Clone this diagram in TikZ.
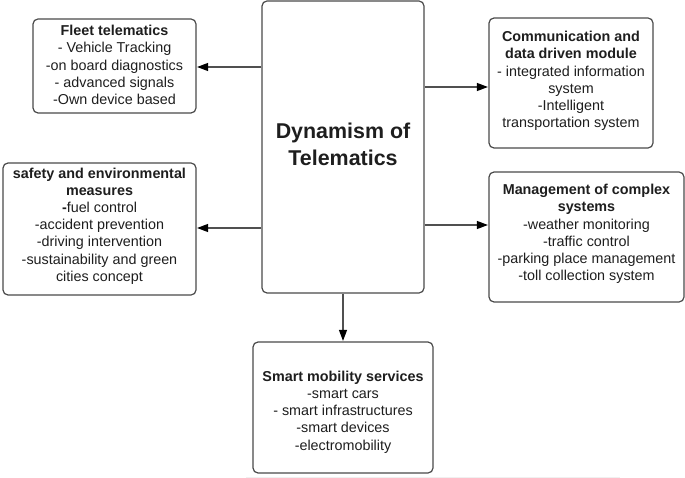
\documentclass[tikz,border=0pt]{standalone}
\usepackage{fontspec}
\setmainfont{Liberation Sans}
\usetikzlibrary{arrows.meta}
\definecolor{boxc}{HTML}{4A4A4A}
\definecolor{txtc}{HTML}{1E1E1E}
\definecolor{linec}{HTML}{505050}
\begin{document}
\begin{tikzpicture}[x=1bp,y=-1bp,
  box/.style={draw=boxc, line width=1.2bp, rounded corners=5bp, fill=white, inner sep=0pt},
  txt/.style={align=center, text=txtc, inner sep=0pt, font=\fontsize{14.4}{17.3}\selectfont},
  title/.style={align=center, text=txtc, inner sep=0pt, font=\fontsize{21.5}{26.8}\selectfont\bfseries},
  arr/.style={draw=linec, line width=1.1bp, -{Triangle[length=11bp,width=8bp,color=black]}, shorten >=0.5bp}]
\useasboundingbox (0,0) rectangle (685,478);
\fill[white] (0,0) rectangle (685,478);
% faint baseline
\draw[gray!12, line width=0.8bp] (246,477) -- (620,477);

% boxes
\node[box, minimum width=162bp, minimum height=292bp] (center) at (343,147) {};
\node[box, minimum width=163bp, minimum height=94bp] (fleet) at (114.5,66) {};
\node[box, minimum width=164bp, minimum height=130bp] (comm) at (571,83) {};
\node[box, minimum width=193bp, minimum height=132bp] (safety) at (99.5,229) {};
\node[box, minimum width=195bp, minimum height=130bp] (mgmt) at (586.5,237) {};
\node[box, minimum width=180bp, minimum height=131bp] (smart) at (343,407.5) {};

% texts
\node[title] (center-t) at (343,144) {Dynamism of\\Telematics};
\node[txt] (fleet-t) at (114.5,65) {\textbf{Fleet telematics}\\- Vehicle Tracking\\-on board diagnostics\\- advanced signals\\-Own device based};
\node[txt] (comm-t) at (571,81) {\textbf{Communication and}\\\textbf{data driven module}\\- integrated information\\system\\-Intelligent\\transportation system};
\node[txt] (safety-t) at (99.5,226) {\textbf{safety and environmental}\\\textbf{measures}\\\textbf{-}fuel control\\-accident prevention\\-driving intervention\\-sustainability and green\\cities concept};
\node[txt] (mgmt-t) at (586.5,234) {\textbf{Management of complex}\\\textbf{systems}\\-weather monitoring\\-traffic control\\-parking place management\\-toll collection system};
\node[txt] (smart-t) at (343,412) {\textbf{Smart mobility services}\\-smart cars\\- smart infrastructures\\-smart devices\\-electromobility};

% connectors
\draw[arr] ([yshift=-1bp]center.west |- fleet.east) -- ([yshift=-1bp]fleet.east);
\draw[arr] ([yshift=-4bp]center.east |- comm.west) -- ([yshift=-4bp]comm.west);
\draw[arr] ([yshift=1bp]center.west |- safety.east) -- ([yshift=1bp]safety.east);
\draw[arr] ([yshift=12bp]center.east |- mgmt.west) -- ([yshift=12bp]mgmt.west);
\draw[arr] (center.south) -- (smart.north);
\end{tikzpicture}
\end{document}
